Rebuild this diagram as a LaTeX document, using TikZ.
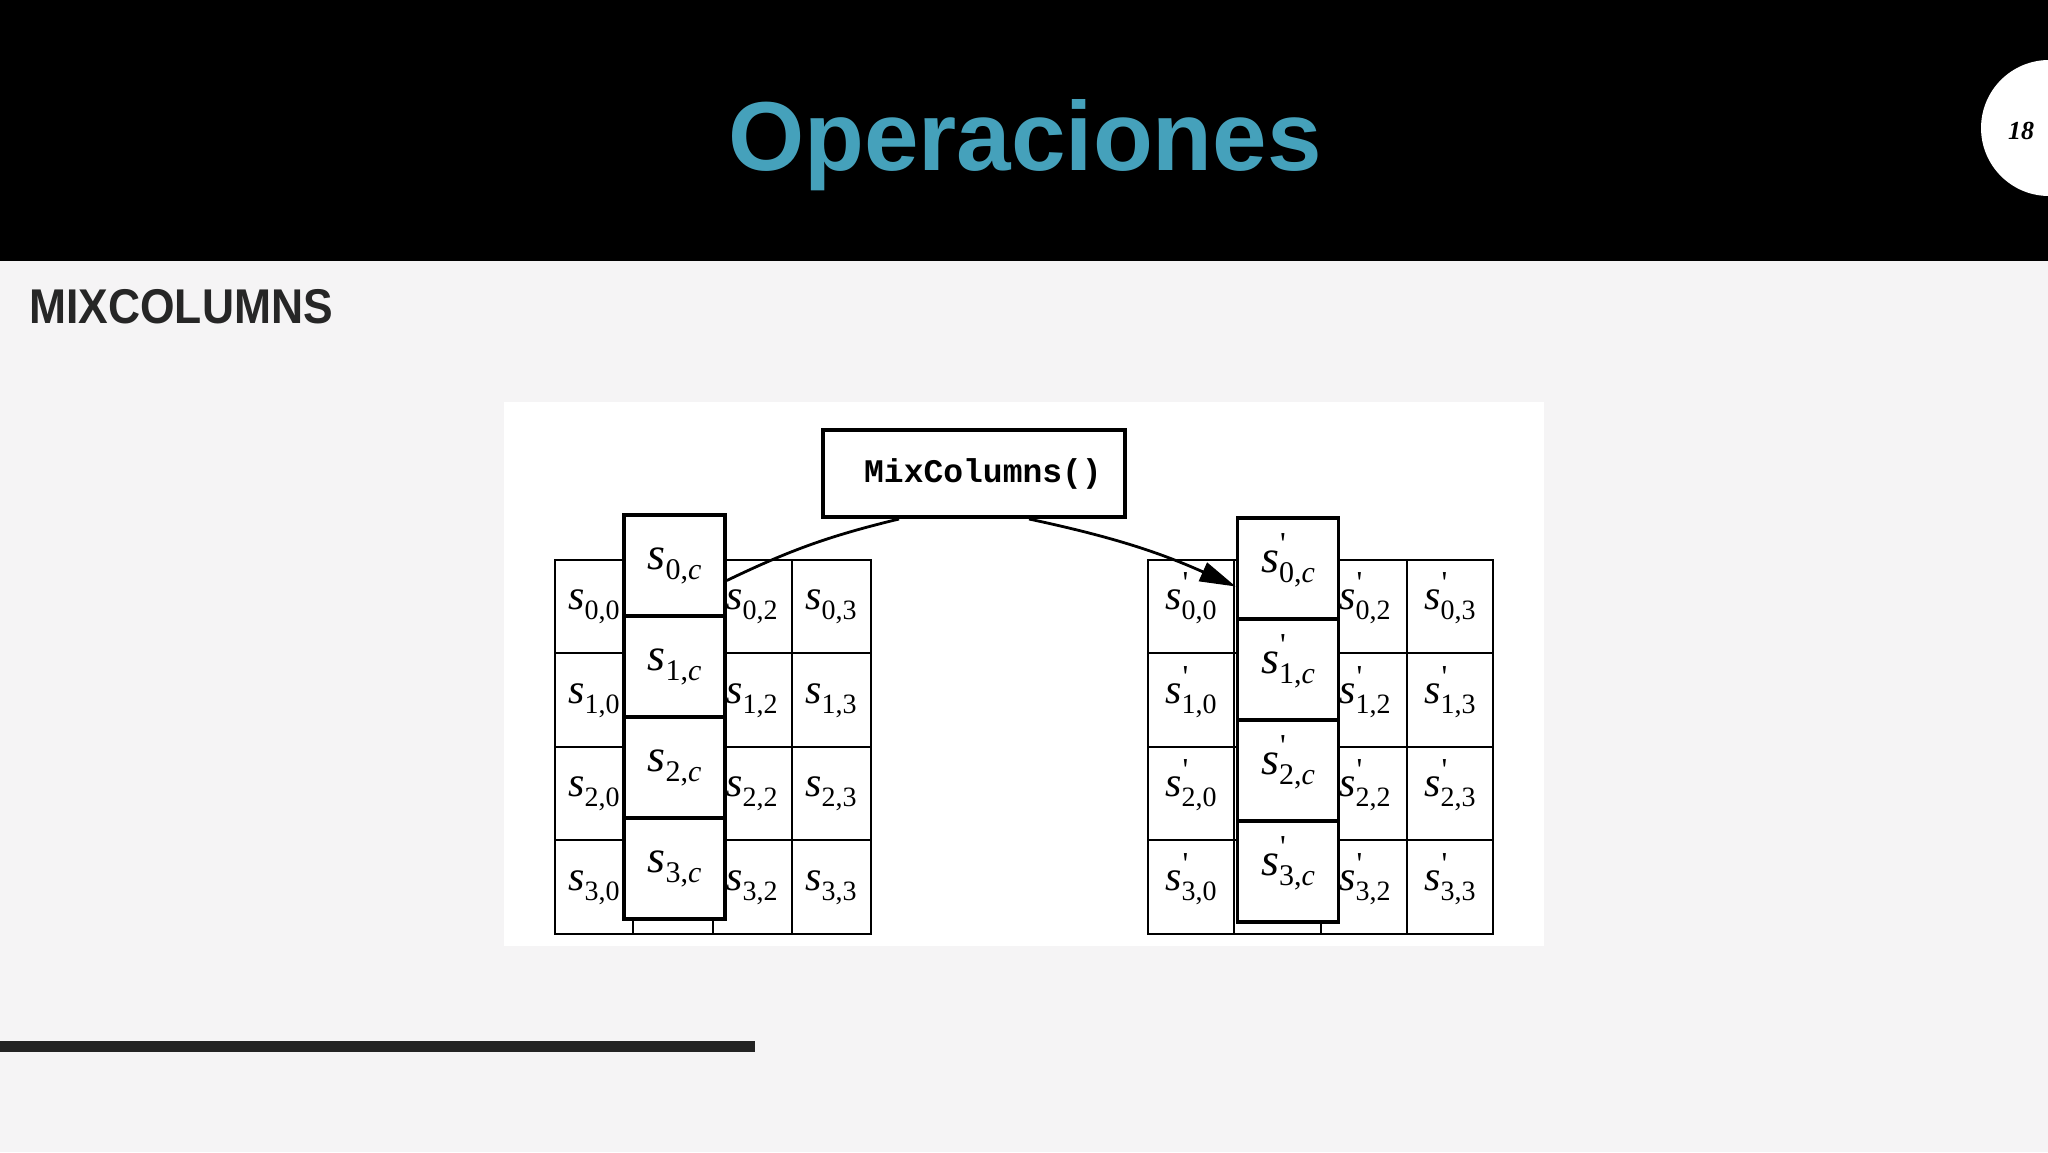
\documentclass[tikz,border=0pt]{standalone}
\usepackage{fontspec}
\setmainfont{Liberation Serif}
\newfontfamily\headfont{Liberation Sans}
\newfontfamily\codefont{Liberation Mono}
\usetikzlibrary{arrows.meta}

\definecolor{slidebg}{RGB}{245,244,245}
\definecolor{titleteal}{RGB}{69,161,187}
\definecolor{bardark}{RGB}{35,35,35}
\definecolor{subgray}{RGB}{38,38,38}

% state entries s_{r,c} and s'_{r,c}
\newcommand{\sprime}[1]{\makebox[0pt][l]{\kern0.5pt\smash{\raisebox{#1}{\fontsize{16}{16}\selectfont\textquotesingle}}}}
\newcommand{\sij}[2]{{\fontsize{21}{21}\selectfont\itshape s}\raisebox{-5pt}{\fontsize{14}{14}\selectfont #1,#2}}
\newcommand{\spij}[2]{{\fontsize{21}{21}\selectfont\itshape s}\sprime{8pt}\raisebox{-5pt}{\fontsize{14}{14}\selectfont #1,#2}}
\newcommand{\scol}[1]{{\fontsize{23}{23}\selectfont\itshape s}\raisebox{-5pt}{\fontsize{15}{15}\selectfont #1,\textit{c}}}
\newcommand{\spcol}[1]{{\fontsize{23}{23}\selectfont\itshape s}\sprime{9pt}\raisebox{-5pt}{\fontsize{15}{15}\selectfont #1,\textit{c}}}

\begin{document}
\begin{tikzpicture}[x=0.5pt,y=-0.5pt,
    gridthin/.style={line width=0.6pt},
    gridthick/.style={line width=1.4pt},
    cellval/.style={inner sep=0pt},
    colbox/.style={draw,line width=1.8pt,fill=white,minimum width=50.5pt,minimum height=50.5pt,inner sep=0pt},
    opbox/.style={draw,line width=2pt,fill=white,minimum width=151pt,minimum height=43.5pt,inner sep=0pt,
      font=\codefont\bfseries\fontsize{16.5}{16.5}\selectfont},
    flowline/.style={line width=1.4pt}]
  \useasboundingbox (0,0) rectangle (2048,1152);
  \fill[slidebg] (0,0) rectangle (2048,1152); % slide
  \fill[black] (0,0) rectangle (2048,261); % header band
  \fill[white] (2049,128) circle (34pt); % page badge
  \node[anchor=base,font=\bfseries\itshape\fontsize{13}{13}\selectfont] (pagenum) at (2021,139) {18};
  \node[anchor=base,text=titleteal,font=\headfont\bfseries\fontsize{49}{49}\selectfont] (title) at (1025,170) {Operaciones};
  \node[anchor=base west,inner sep=0pt,text=subgray,font=\headfont\bfseries\fontsize{24.4}{24.4}\selectfont] (subtitle) at (29,323) {\scalebox{0.91}[1]{MIXCOLUMNS}};
  \fill[bardark] (0,1041) rectangle (755,1052); % bottom bar

  \fill[white] (504,402) rectangle (1544,946); % figure panel

  % state before
  \foreach \y in {653,747,840} \draw[gridthin] (555,\y) -- (871,\y);
  \foreach \x in {633,713,792} \draw[gridthin] (\x,560) -- (\x,934);
  \draw[gridthick] (555,560) rectangle (871,934);
  % state after
  \foreach \y in {653,747,840} \draw[gridthin] (1148,\y) -- (1493,\y);
  \foreach \x in {1234,1321,1407} \draw[gridthin] (\x,560) -- (\x,934);
  \draw[gridthick] (1148,560) rectangle (1493,934);

  \foreach \r/\yc in {0/607,1/701,2/794,3/888} {
    \node[cellval] (a\r0) at (594,\yc) {\sij{\r}{0}};
    \node[cellval] (a\r2) at (752,\yc) {\sij{\r}{2}};
    \node[cellval] (a\r3) at (831,\yc) {\sij{\r}{3}};
    \node[cellval] (b\r0) at (1191,\yc) {\spij{\r}{0}};
    \node[cellval] (b\r2) at (1365,\yc) {\spij{\r}{2}};
    \node[cellval] (b\r3) at (1450,\yc) {\spij{\r}{3}};
  }

  % column c, before and after
  \foreach \r/\yc in {0/565.5,1/666.5,2/767.5,3/868.5} {
    \node[colbox] (c\r) at (674.5,\yc) {\scol{\r}};
    \node[colbox] (d\r) at (1288,\yc+3) {\spcol{\r}};
  }

  \node[opbox] (mix) at (974,473.5) {\hspace{9pt}MixColumns()};
  \draw[flowline] ([yshift=-7.5pt]c0.east) to[bend left=6] ([xshift=-37.5pt]mix.south);
  \draw[flowline,-{Triangle[length=18pt,width=10pt]}] ([xshift=27.5pt]mix.south) to[bend left=6] ([yshift=-9pt]d0.west);
\end{tikzpicture}
\end{document}
